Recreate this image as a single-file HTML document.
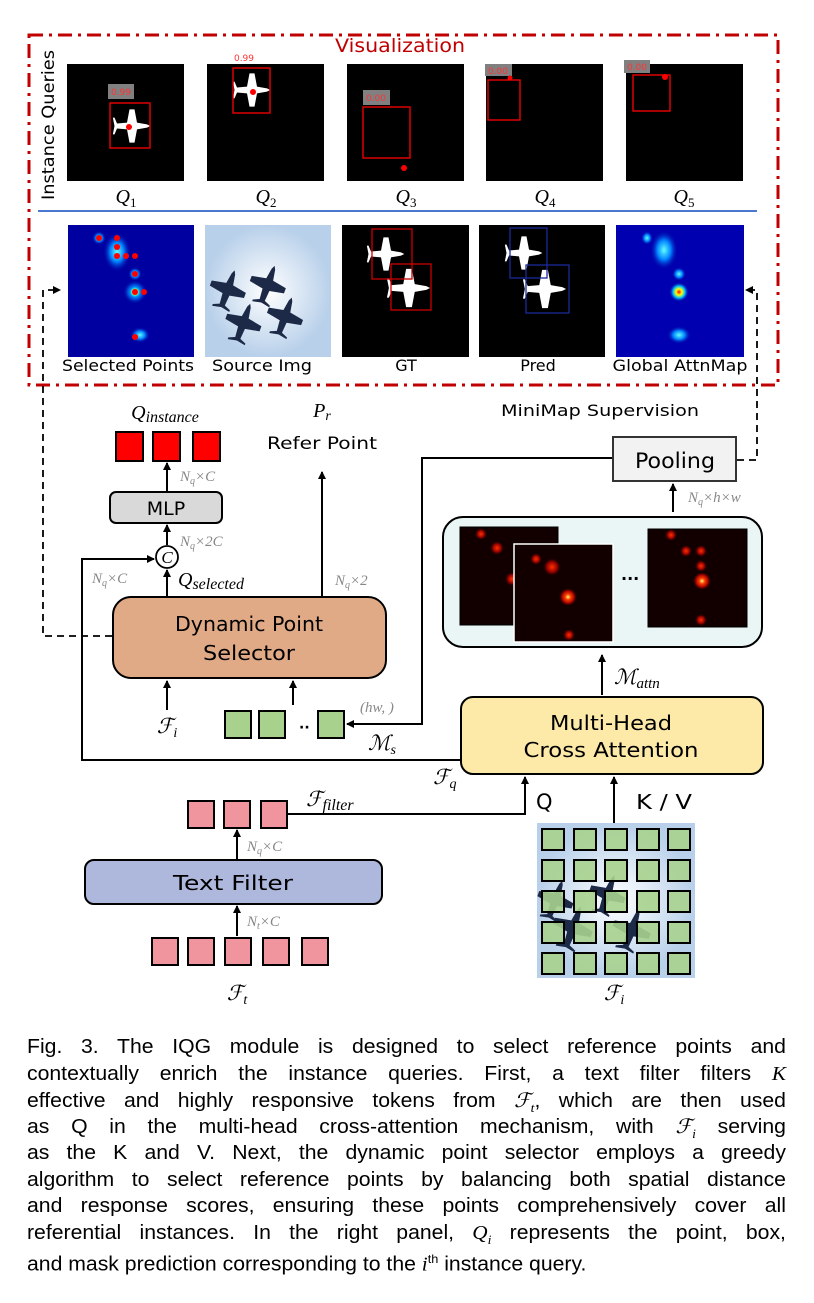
<!DOCTYPE html>
<html><head><meta charset="utf-8"><style>
html,body{margin:0;padding:0;background:#fff;}
body{width:814px;height:1303px;position:relative;overflow:hidden;}
svg{position:absolute;left:0;top:0;}
.cap{position:absolute;left:27px;font-family:"Liberation Sans",sans-serif;font-size:20px;line-height:26.6px;white-space:nowrap;transform:scaleX(1.06);transform-origin:0 0;width:716px;text-align:justify;text-align-last:justify;color:#000;}
.cap.last{text-align-last:left;}
.m{font-family:"Liberation Serif",serif;font-style:italic;}
</style></head><body>
<svg width="814" height="1010" viewBox="0 0 814 1010" xmlns="http://www.w3.org/2000/svg">
<defs>
<marker id="ah" markerWidth="8" markerHeight="8" refX="7" refY="4" orient="auto" markerUnits="userSpaceOnUse"><path d="M0,0 L8,4 L0,8 z" fill="#000"/></marker>
<radialGradient id="jet"><stop offset="0" stop-color="#ff0000"/><stop offset="0.3" stop-color="#ffff00"/><stop offset="0.6" stop-color="#00c0ff"/><stop offset="1" stop-color="#0000a0" stop-opacity="0"/></radialGradient>
<radialGradient id="jet2"><stop offset="0" stop-color="#60ffff"/><stop offset="0.5" stop-color="#0080ff"/><stop offset="1" stop-color="#0000a0" stop-opacity="0"/></radialGradient>
<radialGradient id="hot"><stop offset="0" stop-color="#ffff80"/><stop offset="0.3" stop-color="#ff4000"/><stop offset="0.7" stop-color="#a00000"/><stop offset="1" stop-color="#200000" stop-opacity="0"/></radialGradient>
<radialGradient id="hot2"><stop offset="0" stop-color="#ff3000"/><stop offset="0.6" stop-color="#900000"/><stop offset="1" stop-color="#200000" stop-opacity="0"/></radialGradient>
<radialGradient id="sky"><stop offset="0" stop-color="#ffffff"/><stop offset="1" stop-color="#b8d0ea"/></radialGradient>
<symbol id="pl" viewBox="-24 -22 48 44"><path d="M-18,-3 L-6,-4 L-3,-20 L3,-20 L6,-4 L18,-2 L22,0 L18,2 L6,4 L3,20 L-3,20 L-6,4 L-18,3 L-21,10 L-23,10 L-21,0 L-23,-10 L-21,-10 z" fill="#fff"/></symbol>
<symbol id="pd" viewBox="-24 -22 48 44"><path d="M-18,-3 L-6,-4 L-3,-20 L3,-20 L6,-4 L18,-2 L22,0 L18,2 L6,4 L3,20 L-3,20 L-6,4 L-18,3 L-21,10 L-23,10 L-21,0 L-23,-10 L-21,-10 z" fill="#1c2a48"/></symbol>
</defs>
<rect x="29" y="35" width="749" height="350" fill="none" stroke="#c00000" stroke-width="3" stroke-dasharray="14 6 3 6"/>
<text x="400" y="52" text-anchor="middle" font-family="DejaVu Sans,sans-serif" font-size="19" fill="#c00000" textLength="130" lengthAdjust="spacingAndGlyphs">Visualization</text>
<text transform="translate(54,125) rotate(-90)" text-anchor="middle" font-family="DejaVu Sans,sans-serif" font-size="17" textLength="150" lengthAdjust="spacingAndGlyphs">Instance Queries</text>
<g>
<rect x="67" y="64" width="117" height="117" fill="#000"/>
<use href="#pl" x="112" y="106" width="40" height="40"/>
<rect x="110" y="103" width="40" height="45" fill="none" stroke="#d00" stroke-width="1.5"/>
<rect x="108" y="84" width="26" height="15" fill="#808080"/><text x="121" y="95" text-anchor="middle" font-size="9" font-family="DejaVu Sans,sans-serif" fill="#f33">0.99</text>
<circle cx="129" cy="127" r="3" fill="#f00"/>
<rect x="207" y="64" width="117" height="117" fill="#000"/>
<use href="#pl" x="232" y="68" width="40" height="44"/>
<rect x="233" y="68" width="37" height="45" fill="none" stroke="#d00" stroke-width="1.5"/>
<rect x="231" y="51" width="26" height="13" fill="#fff"/><text x="244" y="61" text-anchor="middle" font-size="9" font-family="DejaVu Sans,sans-serif" fill="#f33">0.99</text>
<circle cx="253" cy="92" r="3" fill="#f00"/>
<rect x="347" y="64" width="117" height="117" fill="#000"/>
<rect x="363" y="107" width="47" height="51" fill="none" stroke="#d00" stroke-width="1.5"/>
<rect x="363" y="90" width="27" height="15" fill="#808080"/><text x="376" y="101" text-anchor="middle" font-size="9" font-family="DejaVu Sans,sans-serif" fill="#f33">0.00</text>
<circle cx="404" cy="168" r="3" fill="#f00"/>
<rect x="486" y="64" width="117" height="117" fill="#000"/>
<rect x="488" y="80" width="32" height="40" fill="none" stroke="#d00" stroke-width="1.5"/>
<rect x="485" y="64" width="27" height="12" fill="#808080"/><text x="498" y="74" text-anchor="middle" font-size="9" font-family="DejaVu Sans,sans-serif" fill="#f33">0.00</text>
<circle cx="510" cy="78" r="2.5" fill="#f00"/>
<rect x="626" y="64" width="117" height="117" fill="#000"/>
<rect x="633" y="75" width="37" height="36" fill="none" stroke="#d00" stroke-width="1.5"/>
<rect x="624" y="60" width="26" height="13" fill="#808080"/><text x="637" y="70" text-anchor="middle" font-size="9" font-family="DejaVu Sans,sans-serif" fill="#f33">0.00</text>
<circle cx="665" cy="77" r="3" fill="#f00"/>
</g>
<g font-family="Liberation Serif,serif" font-style="italic" font-size="20" text-anchor="middle">
<text x="126" y="203">Q<tspan font-size="13" dy="4" font-style="normal">1</tspan></text>
<text x="266" y="203">Q<tspan font-size="13" dy="4" font-style="normal">2</tspan></text>
<text x="406" y="203">Q<tspan font-size="13" dy="4" font-style="normal">3</tspan></text>
<text x="545" y="203">Q<tspan font-size="13" dy="4" font-style="normal">4</tspan></text>
<text x="684" y="203">Q<tspan font-size="13" dy="4" font-style="normal">5</tspan></text>
</g>
<line x1="38" y1="211" x2="757" y2="211" stroke="#4a78d0" stroke-width="2"/>
<rect x="68" y="225" width="126" height="132" fill="#0000a0"/>
<g fill="url(#jet2)"><ellipse cx="117" cy="252" rx="14" ry="20"/><ellipse cx="135" cy="292" rx="12" ry="12"/><ellipse cx="99" cy="238" rx="7" ry="7"/><ellipse cx="135" cy="274" rx="7" ry="7"/><ellipse cx="140" cy="335" rx="10" ry="8"/></g>
<circle cx="135" cy="292" r="7" fill="url(#jet)"/>
<g fill="#f00"><circle cx="99" cy="238" r="3"/><circle cx="117" cy="238" r="3"/><circle cx="117" cy="247" r="3"/><circle cx="117" cy="256" r="3"/><circle cx="126" cy="256" r="3"/><circle cx="135" cy="256" r="3"/><circle cx="135" cy="274" r="3"/><circle cx="135" cy="292" r="3"/><circle cx="144" cy="292" r="3"/><circle cx="135" cy="337" r="3"/></g>
<rect x="205" y="225" width="126" height="132" fill="url(#sky)"/>
<g transform="rotate(-70 268 290)">
<use href="#pd" x="232" y="232" width="46" height="40"/>
<use href="#pd" x="206" y="258" width="46" height="40"/>
<use href="#pd" x="250" y="268" width="46" height="40"/>
<use href="#pd" x="226" y="295" width="46" height="40"/>
</g>
<rect x="342" y="225" width="127" height="132" fill="#000"/>
<use href="#pl" x="366" y="229" width="40" height="50"/>
<use href="#pl" x="386" y="266" width="46" height="44"/>
<rect x="372" y="229" width="40" height="50" fill="none" stroke="#c00" stroke-width="1.3"/>
<rect x="391" y="264" width="40" height="46" fill="none" stroke="#c00" stroke-width="1.3"/>
<rect x="479" y="225" width="126" height="132" fill="#000"/>
<use href="#pl" x="504" y="228" width="40" height="50"/>
<use href="#pl" x="522" y="266" width="46" height="46"/>
<rect x="510" y="228" width="37" height="50" fill="none" stroke="#1a2a9a" stroke-width="1.3"/>
<rect x="526" y="265" width="43" height="48" fill="none" stroke="#1a2a9a" stroke-width="1.3"/>
<rect x="616" y="225" width="128" height="132" fill="#0000b0"/>
<g fill="url(#jet2)"><ellipse cx="664" cy="250" rx="14" ry="20"/><ellipse cx="647" cy="238" rx="6" ry="7"/><ellipse cx="679" cy="274" rx="7" ry="7"/><ellipse cx="679" cy="335" rx="12" ry="9"/></g>
<circle cx="679" cy="292" r="10" fill="url(#jet)"/>
<g font-family="DejaVu Sans,sans-serif" font-size="16" text-anchor="middle">
<text x="128" y="371" textLength="132" lengthAdjust="spacingAndGlyphs">Selected Points</text>
<text x="262" y="371" textLength="100" lengthAdjust="spacingAndGlyphs">Source Img</text>
<text x="406" y="371">GT</text>
<text x="538" y="371">Pred</text>
<text x="680" y="371" textLength="135" lengthAdjust="spacingAndGlyphs">Global AttnMap</text>
</g>
<path d="M112,636 H43 V290 H60" fill="none" stroke="#000" stroke-width="1.8" stroke-dasharray="7 5" marker-end="url(#ah)"/>
<path d="M737,460 H757 V290 H746" fill="none" stroke="#000" stroke-width="1.8" stroke-dasharray="7 5" marker-end="url(#ah)"/>
<text x="165" y="419" text-anchor="middle" font-family="Liberation Serif,serif" font-style="italic" font-size="20">Q<tspan font-size="16" dy="3">instance</tspan></text>
<rect x="116" y="432" width="27" height="29" fill="#f00" stroke="#000" stroke-width="2"/>
<rect x="153" y="432" width="27" height="29" fill="#f00" stroke="#000" stroke-width="2"/>
<rect x="193" y="432" width="27" height="29" fill="#f00" stroke="#000" stroke-width="2"/>
<line x1="167" y1="492" x2="167" y2="463" stroke="#000" stroke-width="2" marker-end="url(#ah)"/>
<text x="180" y="481" font-family="Liberation Serif,serif" font-style="italic" font-size="15" fill="#888">N<tspan font-size="10" dy="3">q</tspan><tspan dy="-3">×C</tspan></text>
<rect x="110" y="492" width="112" height="31" rx="6" fill="#d9d9d9" stroke="#000" stroke-width="2"/>
<text x="166" y="515" text-anchor="middle" font-family="DejaVu Sans,sans-serif" font-size="19">MLP</text>
<line x1="167" y1="545" x2="167" y2="525" stroke="#000" stroke-width="2" marker-end="url(#ah)"/>
<text x="180" y="546" font-family="Liberation Serif,serif" font-style="italic" font-size="15" fill="#888">N<tspan font-size="10" dy="3">q</tspan><tspan dy="-3">×2C</tspan></text>
<circle cx="167" cy="557" r="11" fill="#fff" stroke="#000" stroke-width="1.8"/>
<text x="167" y="563" text-anchor="middle" font-family="Liberation Serif,serif" font-style="italic" font-size="17">C</text>
<path d="M460,760 H82 V559 H154" fill="none" stroke="#000" stroke-width="2" marker-end="url(#ah)"/>
<text x="92" y="583" font-family="Liberation Serif,serif" font-style="italic" font-size="15" fill="#888">N<tspan font-size="10" dy="3">q</tspan><tspan dy="-3">×C</tspan></text>
<line x1="167" y1="596" x2="167" y2="570" stroke="#000" stroke-width="2" marker-end="url(#ah)"/>
<text x="178" y="586" font-family="Liberation Serif,serif" font-style="italic" font-size="20">Q<tspan font-size="16" dy="3">selected</tspan></text>
<text x="322" y="417" text-anchor="middle" font-family="Liberation Serif,serif" font-style="italic" font-size="20">P<tspan font-size="14" dy="3">r</tspan></text>
<text x="322" y="449" text-anchor="middle" font-family="DejaVu Sans,sans-serif" font-size="17" textLength="110" lengthAdjust="spacingAndGlyphs">Refer Point</text>
<line x1="322" y1="596" x2="322" y2="472" stroke="#000" stroke-width="2" marker-end="url(#ah)"/>
<text x="335" y="585" font-family="Liberation Serif,serif" font-style="italic" font-size="15" fill="#888">N<tspan font-size="10" dy="3">q</tspan><tspan dy="-3">×2</tspan></text>
<rect x="113" y="597" width="273" height="81" rx="18" fill="#e0aa86" stroke="#000" stroke-width="2"/>
<text x="249" y="631" text-anchor="middle" font-family="DejaVu Sans,sans-serif" font-size="20" textLength="148" lengthAdjust="spacingAndGlyphs">Dynamic Point</text>
<text x="249" y="660" text-anchor="middle" font-family="DejaVu Sans,sans-serif" font-size="20" textLength="92" lengthAdjust="spacingAndGlyphs">Selector</text>
<line x1="167" y1="710" x2="167" y2="681" stroke="#000" stroke-width="2" marker-end="url(#ah)"/>
<line x1="293" y1="705" x2="293" y2="681" stroke="#000" stroke-width="2" marker-end="url(#ah)"/>
<text x="167" y="733" text-anchor="middle" font-family="Liberation Serif,serif" font-style="italic" font-size="21">ℱ<tspan font-size="14" dy="4">i</tspan></text>
<rect x="225" y="711" width="26" height="27" fill="#a9d18e" stroke="#000" stroke-width="2"/>
<rect x="259" y="711" width="26" height="27" fill="#a9d18e" stroke="#000" stroke-width="2"/>
<text x="299" y="732" font-family="DejaVu Sans,sans-serif" font-size="14" font-weight="bold">··</text>
<rect x="318" y="711" width="26" height="27" fill="#a9d18e" stroke="#000" stroke-width="2"/>
<path d="M613,458 H422 V724 H347" fill="none" stroke="#000" stroke-width="2" marker-end="url(#ah)"/>
<text x="360" y="712" font-family="Liberation Serif,serif" font-style="italic" font-size="15" fill="#888">(hw, )</text>
<text x="368" y="750" font-family="Liberation Serif,serif" font-style="italic" font-size="21">ℳ<tspan font-size="14" dy="4">s</tspan></text>
<text x="600" y="416" text-anchor="middle" font-family="DejaVu Sans,sans-serif" font-size="16" textLength="198" lengthAdjust="spacingAndGlyphs">MiniMap Supervision</text>
<rect x="613" y="437" width="123" height="44" fill="#f2f2f2" stroke="#333" stroke-width="2"/>
<text x="675" y="468" text-anchor="middle" font-family="DejaVu Sans,sans-serif" font-size="21" textLength="80" lengthAdjust="spacingAndGlyphs">Pooling</text>
<line x1="673" y1="512" x2="673" y2="484" stroke="#000" stroke-width="2" marker-end="url(#ah)"/>
<text x="688" y="502" font-family="Liberation Serif,serif" font-style="italic" font-size="15" fill="#888">N<tspan font-size="10" dy="3">q</tspan><tspan dy="-3">×h×w</tspan></text>
<rect x="443" y="517" width="319" height="130" rx="20" fill="#eaf6f6" stroke="#000" stroke-width="2"/>
<rect x="460" y="527" width="98" height="98" fill="#120000" stroke="#000"/>
<g fill="url(#hot2)"><circle cx="481" cy="534" r="6"/><circle cx="497" cy="548" r="7"/><circle cx="512" cy="579" r="7"/></g>
<rect x="514" y="544" width="99" height="98" fill="#120000" stroke="#fff" stroke-width="1.5"/>
<g fill="url(#hot2)"><circle cx="536" cy="559" r="6"/><circle cx="552" cy="567" r="9"/><circle cx="569" cy="635" r="6"/></g>
<circle cx="568" cy="597" r="9" fill="url(#hot)"/>
<text x="621" y="584" font-family="DejaVu Sans,sans-serif" font-size="16" font-weight="bold">···</text>
<rect x="648" y="529" width="99" height="98" fill="#120000" stroke="#000"/>
<g fill="url(#hot2)"><circle cx="671" cy="535" r="6"/><circle cx="686" cy="551" r="6"/><circle cx="701" cy="551" r="6"/><circle cx="701" cy="566" r="6"/><circle cx="701" cy="620" r="6"/></g>
<circle cx="702" cy="581" r="9" fill="url(#hot)"/>
<line x1="602" y1="695" x2="602" y2="655" stroke="#000" stroke-width="2" marker-end="url(#ah)"/>
<text x="614" y="684" font-family="Liberation Serif,serif" font-style="italic" font-size="21">ℳ<tspan font-size="15" dy="4">attn</tspan></text>
<rect x="461" y="697" width="302" height="77" rx="12" fill="#fdeaa8" stroke="#000" stroke-width="2"/>
<text x="611" y="730" text-anchor="middle" font-family="DejaVu Sans,sans-serif" font-size="20" textLength="122" lengthAdjust="spacingAndGlyphs">Multi-Head</text>
<text x="611" y="757" text-anchor="middle" font-family="DejaVu Sans,sans-serif" font-size="20" textLength="175" lengthAdjust="spacingAndGlyphs">Cross Attention</text>
<text x="433" y="784" font-family="Liberation Serif,serif" font-style="italic" font-size="21">ℱ<tspan font-size="14" dy="4">q</tspan></text>
<rect x="188" y="801" width="26" height="27" fill="#f0949e" stroke="#000" stroke-width="2"/>
<rect x="224" y="801" width="26" height="27" fill="#f0949e" stroke="#000" stroke-width="2"/>
<rect x="261" y="801" width="26" height="27" fill="#f0949e" stroke="#000" stroke-width="2"/>
<text x="306" y="806" font-family="Liberation Serif,serif" font-style="italic" font-size="21">ℱ<tspan font-size="16" dy="4">filter</tspan></text>
<path d="M287,814 H525 V777" fill="none" stroke="#000" stroke-width="2" marker-end="url(#ah)"/>
<text x="536" y="809" font-family="DejaVu Sans,sans-serif" font-size="21">Q</text>
<line x1="614" y1="823" x2="614" y2="777" stroke="#000" stroke-width="2" marker-end="url(#ah)"/>
<text x="636" y="809" font-family="DejaVu Sans,sans-serif" font-size="20" textLength="56" lengthAdjust="spacingAndGlyphs">K / V</text>
<line x1="237" y1="860" x2="237" y2="830" stroke="#000" stroke-width="2" marker-end="url(#ah)"/>
<text x="247" y="851" font-family="Liberation Serif,serif" font-style="italic" font-size="15" fill="#888">N<tspan font-size="10" dy="3">q</tspan><tspan dy="-3">×C</tspan></text>
<rect x="85" y="860" width="297" height="44" rx="9" fill="#aeb8dc" stroke="#000" stroke-width="2"/>
<text x="233" y="890" text-anchor="middle" font-family="DejaVu Sans,sans-serif" font-size="20" textLength="120" lengthAdjust="spacingAndGlyphs">Text Filter</text>
<line x1="237" y1="936" x2="237" y2="906" stroke="#000" stroke-width="2" marker-end="url(#ah)"/>
<text x="247" y="926" font-family="Liberation Serif,serif" font-style="italic" font-size="15" fill="#888">N<tspan font-size="10" dy="3">t</tspan><tspan dy="-3">×C</tspan></text>
<g fill="#f0949e" stroke="#000" stroke-width="2">
<rect x="152" y="938" width="26" height="27"/><rect x="188" y="938" width="26" height="27"/><rect x="225" y="938" width="26" height="27"/><rect x="263" y="938" width="26" height="27"/><rect x="302" y="938" width="26" height="27"/>
</g>
<text x="237" y="1000" text-anchor="middle" font-family="Liberation Serif,serif" font-style="italic" font-size="21">ℱ<tspan font-size="14" dy="4">t</tspan></text>
<rect x="537" y="823" width="158" height="155" fill="url(#sky)"/>
<g transform="rotate(-70 600 900)">
<use href="#pd" x="560" y="838" width="50" height="40"/>
<use href="#pd" x="540" y="862" width="50" height="44"/>
<use href="#pd" x="585" y="885" width="46" height="40"/>
<use href="#pd" x="560" y="918" width="46" height="44"/>
</g>
<g fill="#a9d18e" fill-opacity="0.9" stroke="#000" stroke-width="2">
<rect x="542" y="829" width="22" height="21"/><rect x="574" y="829" width="22" height="21"/><rect x="605" y="829" width="22" height="21"/><rect x="637" y="829" width="22" height="21"/><rect x="668" y="829" width="22" height="21"/>
<rect x="542" y="860" width="22" height="21"/><rect x="574" y="860" width="22" height="21"/><rect x="605" y="860" width="22" height="21"/><rect x="637" y="860" width="22" height="21"/><rect x="668" y="860" width="22" height="21"/>
<rect x="542" y="891" width="22" height="21"/><rect x="574" y="891" width="22" height="21"/><rect x="605" y="891" width="22" height="21"/><rect x="637" y="891" width="22" height="21"/><rect x="668" y="891" width="22" height="21"/>
<rect x="542" y="922" width="22" height="21"/><rect x="574" y="922" width="22" height="21"/><rect x="605" y="922" width="22" height="21"/><rect x="637" y="922" width="22" height="21"/><rect x="668" y="922" width="22" height="21"/>
<rect x="542" y="953" width="22" height="21"/><rect x="574" y="953" width="22" height="21"/><rect x="605" y="953" width="22" height="21"/><rect x="637" y="953" width="22" height="21"/><rect x="668" y="953" width="22" height="21"/>
</g>
<text x="614" y="1000" text-anchor="middle" font-family="Liberation Serif,serif" font-style="italic" font-size="21">ℱ<tspan font-size="14" dy="4">i</tspan></text>
</svg>
<div class="cap" style="top:1034px">Fig. 3. The IQG module is designed to select reference points and</div>
<div class="cap" style="top:1061px">contextually enrich the instance queries. First, a text filter filters <span class="m">K</span></div>
<div class="cap" style="top:1088px">effective and highly responsive tokens from <span class="m">ℱ<sub style="font-size:13px">t</sub></span>, which are then used</div>
<div class="cap" style="top:1114px">as Q in the multi-head cross-attention mechanism, with <span class="m">ℱ<sub style="font-size:13px">i</sub></span> serving</div>
<div class="cap" style="top:1140px">as the K and V. Next, the dynamic point selector employs a greedy</div>
<div class="cap" style="top:1167px">algorithm to select reference points by balancing both spatial distance</div>
<div class="cap" style="top:1193px">and response scores, ensuring these points comprehensively cover all</div>
<div class="cap" style="top:1220px">referential instances. In the right panel, <span class="m">Q<sub style="font-size:13px">i</sub></span> represents the point, box,</div>
<div class="cap last" style="top:1246px">and mask prediction corresponding to the <span class="m">i</span><sup style="font-size:12px">th</sup> instance query.</div>
</body></html>
